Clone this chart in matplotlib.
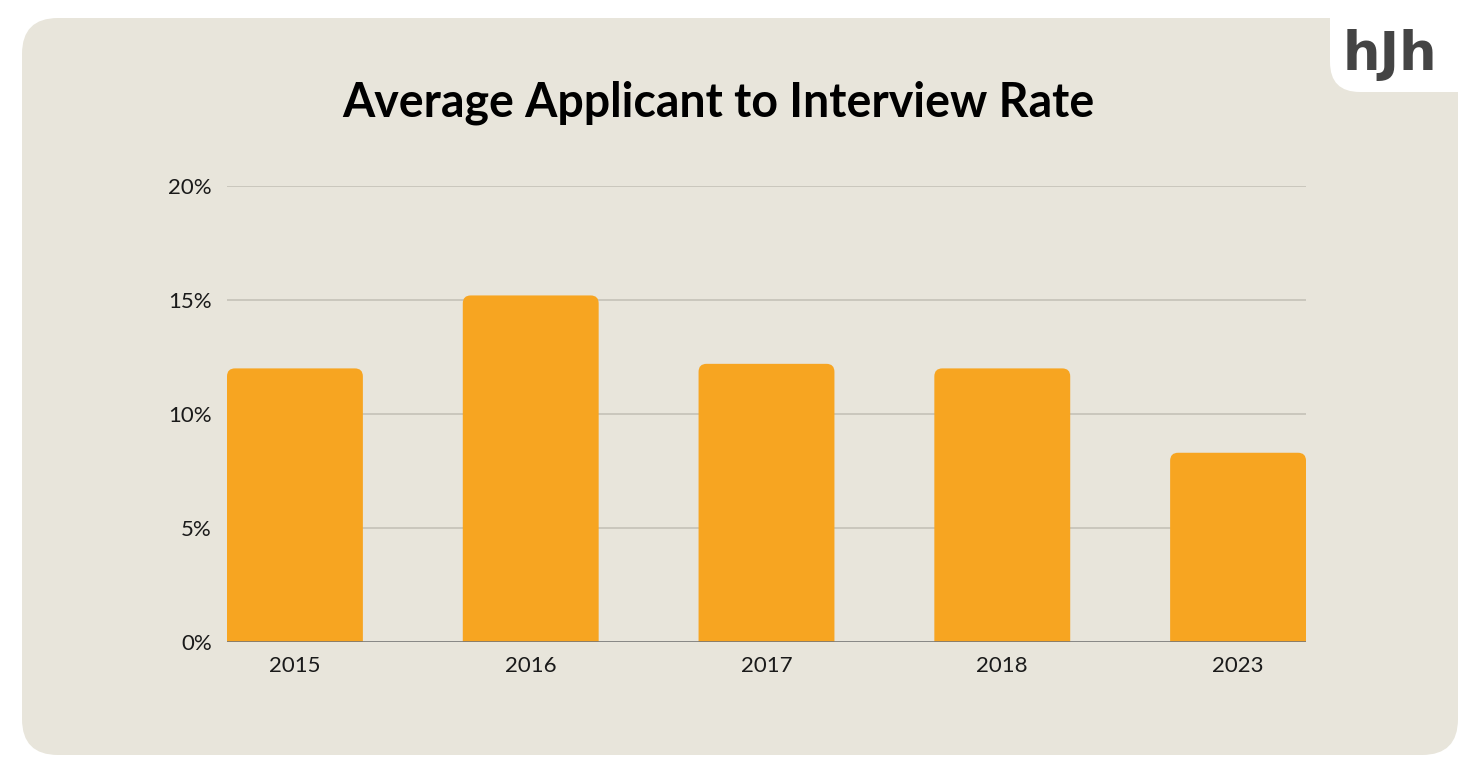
import matplotlib.pyplot as plt
from matplotlib.patches import FancyBboxPatch, PathPatch
from matplotlib.path import Path

######################################################
# Data
######################################################

years = ['2015', '2016', '2017', '2018', '2023']
rates = [12.0, 15.2, 12.2, 12.0, 8.3]
y_ticks = [0, 5, 10, 15, 20]
y_labels = ['0%', '5%', '10%', '15%', '20%']
title = 'Average Applicant to Interview Rate'

PANEL = '#E8E5DB'
BAR = '#F7A521'
FONT = ['Lato', 'DejaVu Sans']

plt.rcParams['font.family'] = FONT

fig = plt.figure(figsize=(14.8, 7.74), dpi=100)
fig.patch.set_facecolor('white')

######################################################
# Background panel in pixel coordinates
######################################################

bg = fig.add_axes([0, 0, 1, 1])
bg.set_xlim(0, 1480)
bg.set_ylim(774, 0)
bg.axis('off')
bg.add_patch(FancyBboxPatch((22, 18), 1436, 737,
                            boxstyle='round,pad=0,rounding_size=36',
                            facecolor=PANEL, edgecolor='none'))
bg.add_patch(FancyBboxPatch((1330, -60), 200, 152,
                            boxstyle='round,pad=0,rounding_size=30',
                            facecolor='white', edgecolor='none'))
bg.text(1390, 55, 'hJh', fontsize=38, fontweight='bold', color='#444444',
        ha='center', va='center', family='DejaVu Sans')
bg.text(718, 103, title, fontsize=33.5, fontweight='bold', color='black',
        ha='center', va='center')

######################################################
# Bar chart
######################################################

ax = fig.add_axes([227 / 1480, (774 - 642) / 774,
                   (1306 - 227) / 1480, (642 - 186) / 774])
ax.set_facecolor('none')
width = 136 / 236
x = list(range(len(years)))
bars = ax.bar(x, rates, width=width, color=BAR, zorder=3)
ax.set_xlim(-width / 2, len(years) - 1 + width / 2)
ax.set_ylim(0, 20)


def rounded_top(bx, bw, bh, rx, ry):
    verts = [(bx, 0), (bx, bh - ry), (bx, bh), (bx + rx, bh),
             (bx + bw - rx, bh), (bx + bw, bh), (bx + bw, bh - ry),
             (bx + bw, 0), (bx, 0)]
    codes = [Path.MOVETO, Path.LINETO, Path.CURVE3, Path.CURVE3,
             Path.LINETO, Path.CURVE3, Path.CURVE3, Path.LINETO,
             Path.CLOSEPOLY]
    return Path(verts, codes)


# rounded top corners built from each bar's own geometry
rx = 8 / 236
ry = 8 / 22.8
for b in bars:
    b.set_visible(False)
    p = rounded_top(b.get_x(), b.get_width(), b.get_height(), rx, ry)
    ax.add_patch(PathPatch(p, facecolor=BAR, edgecolor='none', zorder=3))

ax.set_yticks(y_ticks)
ax.set_yticklabels(y_labels)
ax.set_xticks(x)
ax.set_xticklabels(years)
ax.tick_params(axis='both', length=0, labelsize=16, colors='#1a1a1a')
ax.tick_params(axis='y', pad=11)
ax.tick_params(axis='x', pad=10)
for t in y_ticks[1:]:
    ax.axhline(t, color='#C4C1B8', linewidth=1.2, zorder=1)
ax.axhline(0, color='#777777', linewidth=1.2, zorder=4)
for s in ax.spines.values():
    s.set_visible(False)

plt.savefig('out.png', dpi=100)
